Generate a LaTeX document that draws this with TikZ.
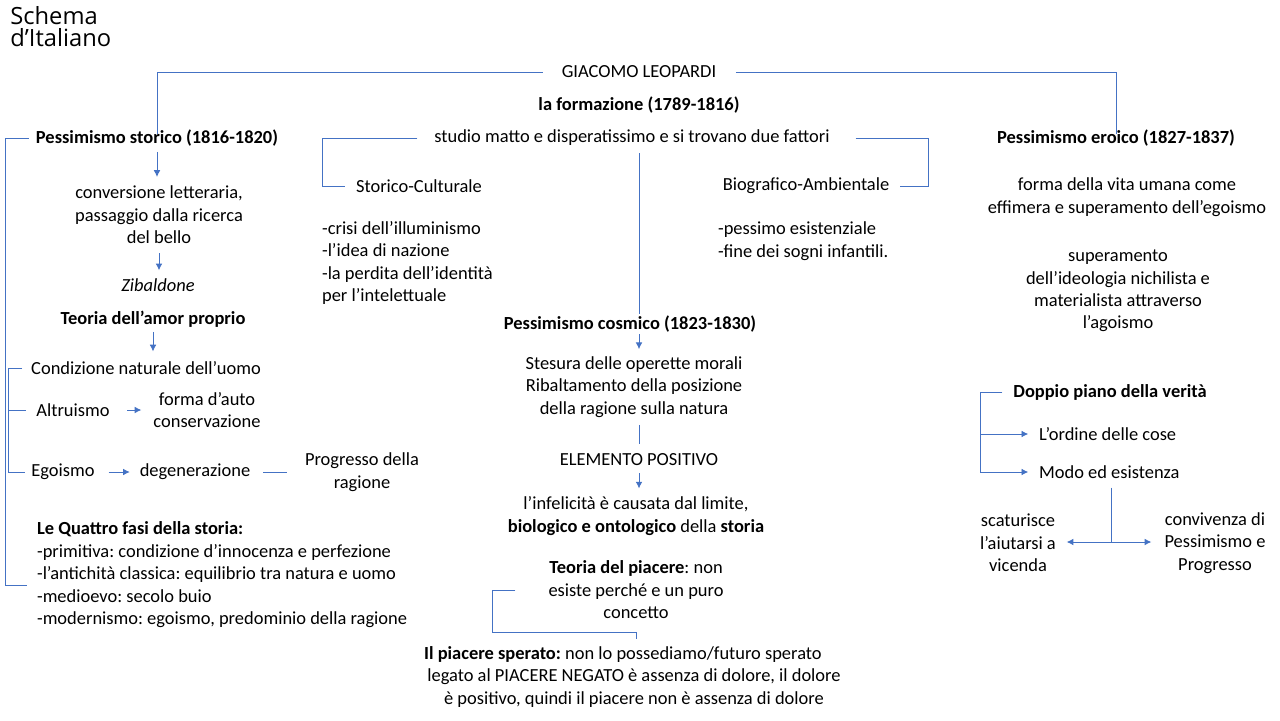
\documentclass[tikz,border=0pt]{standalone}
\usepackage{fontspec}
\setmainfont{Carlito}
\newfontfamily\titlefont{Open Sans}
\usetikzlibrary{arrows.meta}
\definecolor{lineblue}{HTML}{4472C4}
\frenchspacing

\begin{document}
\begin{tikzpicture}[x=0.02cm, y=-0.02cm,
		every node/.style={inner sep=1pt, font=\fontsize{10.5}{12.8}\selectfont},
		lnk/.style={draw=lineblue, line width=0.5pt},
		arr/.style={lnk, -{Latex[length=3.8pt, width=3.8pt]}}]
		%%%%% START %%%%%
		
		\fill[white] (0, 0) rectangle (1280, 720);
		\useasboundingbox (0, 0) rectangle (1280, 720);
		
		\node[anchor=north west, align=left, inner sep=0pt, font=\titlefont\fontsize{13.5}{12.8}\selectfont] (title) at (10, 6) {Schema\\d’Italiano};
		
		\node (leo) at (639, 72) {GIACOMO LEOPARDI};
		\node (form) at (639, 105) {\textbf{la formazione (1789-1816)}};
		\node (studio) at (632, 138) {studio matto e disperatissimo e si trovano due fattori};
		\node (storcult) at (419, 186) {Storico-Culturale};
		\node (biogamb) at (806, 186) {Biografico-Ambientale};
		\node[anchor=west, align=left] (listsc) at (320, 263) {-crisi dell’illuminismo\\-l’idea di nazione\\-la perdita dell’identità\\per l’intelettuale};
		\node[anchor=west, align=left] (listba) at (716, 241) {-pessimo esistenziale\\-fine dei sogni infantili.};
		
		\node (pcosm) at (630, 324) {\textbf{Pessimismo cosmico (1823-1830)}};
		\node[align=center] (stesura) at (634, 387) {Stesura delle operette morali\\Ribaltamento della posizione\\della ragione sulla natura};
		\node (elem) at (639, 460) {ELEMENTO POSITIVO};
		\node[align=center] (infel) at (636, 516) {l’infelicità è causata dal limite,\\\textbf{biologico e ontologico} della \textbf{storia}};
		\node[align=center] (teoria) at (636, 590) {\textbf{Teoria del piacere}: non\\esiste perché e un puro\\concetto};
		\node[align=center] (sperato) at (634, 677) {\textbf{Il piacere sperato:} non lo possediamo/futuro sperato\hspace*{1.2em}\\legato al PIACERE NEGATO è assenza di dolore, il dolore\\è positivo, quindi il piacere non è assenza di dolore};
		
		% left column
		\node (pstor) at (157, 138) {\textbf{Pessimismo storico (1816-1820)}};
		\node[align=center] (conv) at (159, 215) {conversione letteraria,\\passaggio dalla ricerca\\del bello};
		\node (zib) at (158, 285) {\textit{Zibaldone}};
		\node (amor) at (153, 319) {\textbf{Teoria dell’amor proprio}};
		\node (cond) at (146, 368) {Condizione naturale dell’uomo};
		\node (altr) at (73, 410) {Altruismo};
		\node[align=center] (auto) at (207, 410) {forma d’auto\\conservazione};
		\node (ego) at (63, 472) {Egoismo};
		\node (degen) at (195, 472) {degenerazione};
		\node[align=center] (progr) at (362, 472) {Progresso della\\ragione};
		\node[anchor=west, align=left] (fasi) at (35, 575) {\textbf{Le Quattro fasi della storia:}\\-primitiva: condizione d’innocenza e perfezione\\-l’antichità classica: equilibrio tra natura e uomo\\-medioevo: secolo buio\\-modernismo: egoismo, predominio della ragione};
		
		% right column
		\node (perois) at (1116, 138) {\textbf{Pessimismo eroico (1827-1837)}};
		\node[align=center] (forma) at (1127, 197) {forma della vita umana come\\effimera e superamento dell’egoismo};
		\node[align=center] (superam) at (1118, 291) {superamento\\dell’ideologia nichilista e\\materialista attraverso\\l’agoismo};
		\node (doppio) at (1110, 392) {\textbf{Doppio piano della verità}};
		\node[anchor=west] (ordine) at (1037, 434) {L’ordine delle cose};
		\node[anchor=west] (modo) at (1037, 472) {Modo ed esistenza};
		\node[align=center] (scat) at (1018, 543) {scaturisce\\l’aiutarsi a\\vicenda};
		\node[align=center] (conviv) at (1215, 543) {convivenza di\\Pessimismo e\\Progresso};
		
		\coordinate (scC) at (322, 186);
		\coordinate (baC) at (928, 186);
		\coordinate (tsC) at (492, 632);
		\coordinate (lbC) at (5, 585);
		\coordinate (lbE) at (27, 585);
		\coordinate (ibC) at (8, 472);
		\coordinate (ibM) at (8, 410);
		\coordinate (dbC) at (980, 472);
		\coordinate (dbM) at (980, 434);
		\coordinate (split) at (1111, 542);
		
		\draw[lnk, shorten <=9.7pt, shorten >=-3.5pt] (leo.west) -| (pstor.north);
		\draw[lnk, shorten <=10pt, shorten >=-3.5pt] (leo.east) -| (perois.north);
		
		\draw[lnk, shorten <=8.5pt, shorten >=5pt] (studio.west) -| (scC) -- (storcult.west);
		\draw[lnk, shorten <=13.6pt, shorten >=5pt] (studio.east) -| (baC) -- (biogamb.east);
		\draw[lnk, shorten <=3pt] (studio.south -| leo) -- (pcosm.north -| leo);
		
		\draw[arr, shorten >=3pt] (pcosm.south -| leo) -- (stesura.north -| leo);
		\draw[lnk, shorten <=3pt, shorten >=4.5pt] (stesura.south -| leo) -- (elem.north -| leo);
		\draw[arr, shorten <=3pt, shorten >=3.5pt] (elem.south -| leo) -- (infel.north -| leo);
		\draw[lnk, shorten <=17.6pt, shorten >=3pt] (teoria.west) -| (tsC) -| (sperato.north -| teoria);
		
		\draw[lnk, shorten <=2.8pt] (pstor.west) -| (lbC) -- (lbE);
		\draw[arr, shorten <=2pt, shorten >=4pt] (pstor.south) -- (pstor.south |- conv.north);
		\draw[arr, shorten <=4pt, shorten >=3.5pt] (conv.south) -- (conv.south |- zib.north);
		\draw[arr, shorten <=1.5pt, shorten >=4.5pt] (amor.south) -- (amor.south |- cond.north);
		
		\draw[lnk, shorten <=4pt, shorten >=2.3pt] (cond.west) -| (ibC) -- (ego.west);
		\draw[lnk, shorten >=4.5pt] (ibM) -- (altr.west);
		\draw[arr, shorten <=9pt, shorten >=5.7pt] (altr.east) -- (auto.west);
		\draw[arr, shorten <=6.8pt, shorten >=4.5pt] (ego.east) -- (degen.west);
		\draw[lnk, shorten <=6.3pt, shorten >=9pt] (degen.east) -- (progr.west);
		
		\draw[arr, shorten <=5pt, shorten >=5pt] (doppio.west) -| (dbC) -- (modo.west);
		\draw[arr, shorten >=5pt] (dbM) -- (ordine.west);
		\draw[lnk, shorten <=4pt] (modo.south -| split) -- (split);
		\draw[arr, shorten >=5pt] (split) -- (scat.east |- split);
		\draw[arr, shorten >=6.3pt] (split) -- (conviv.west |- split);
		
		%%%%% END %%%%%
\end{tikzpicture}
\end{document}
